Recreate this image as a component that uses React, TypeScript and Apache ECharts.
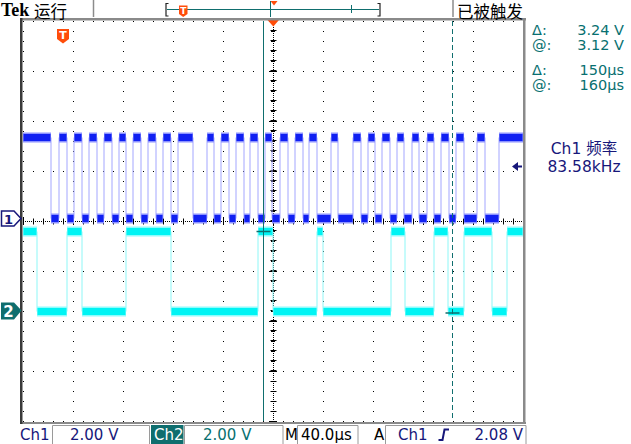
import React, { useEffect, useRef } from "react";
import * as echarts from "echarts";

// ---- axis ranges (time in µs, vertical in divisions) ----
const X_MIN = -200;
const X_MAX = 200;
const X_DIV = 40;
const Y_MIN = -4;
const Y_MAX = 4;
const VOLTS_PER_DIV = 2;

// ---- channel 1 (blue) : edge times in µs, starts high ----
const CH1_START_HIGH = true;
const CH1_HIGH_V = 3.24;
const CH1_LOW_V = 0;
const CH1_OFFSET_DIV = 0.05;
const CH1_EDGES_US = [
  -177.6, -171.2, -164.8, -159.2, -152.8, -147.2, -140.8, -135.2, -128.8, -123.2,
  -117.6, -112, -105.6, -100, -93.6, -88, -81.6, -76, -64, -52.8,
  -47.2, -41.6, -35.2, -29.6, -23.2, -18.4, -12, -6.4, -0.8, 5.6,
  12, 17.6, 24, 28.8, 35.2, 46.4, 52, 64, 70.4, 76,
  81.6, 87.2, 93.6, 99.2, 104.8, 111.2, 116.8, 123.2, 128.8, 134.4,
  140.8, 146.4, 152.8, 163.2, 169.6, 180.8,
];

// ---- channel 2 (cyan) ----
const CH2_START_HIGH = true;
const CH2_HIGH_V = 3.2;
const CH2_LOW_V = 0;
const CH2_OFFSET_DIV = -1.81;
const CH2_EDGES_US = [
  -188.8, -164.8, -152.8, -117.6, -81.6, -12, 0, 35.2, 40, 94.4,
  105.6, 128.8, 140, 152.8, 175.2, 187.2,
];

// ---- cursors / trigger ----
const CURSOR_T_US = [-8, 143.2];
const CURSOR_CH2_V = [3.2, -0.06];
const TRIGGER_LEVEL_V = 2.08;
const TRIGGER_T_US = 0;
const T_MARK_US = -168;

// ---- readouts ----
const TOP_LEFT_TEXT = ["Tek", "运行"];
const TOP_RIGHT_TEXT = "已被触发";
const READOUT_LABELS = ["Δ:", "@:", "Δ:", "@:"];
const READOUT_VALUES = ["3.24 V", "3.12 V", "150µs", "160µs"];
const FREQ_TEXT = ["Ch1 频率", "83.58kHz"];
const BOTTOM_CH1 = ["Ch1", "2.00 V"];
const BOTTOM_CH2 = ["Ch2", "2.00 V"];
const BOTTOM_TIME = ["M", "40.0µs"];
const BOTTOM_TRIG = ["A", "Ch1", "2.08 V"];

// ---- layout / style ----
const GRID_LEFT = 23;
const GRID_TOP = 21;
const GRID_W = 500;
const GRID_H = 400;
const DIV_PX = GRID_H / (Y_MAX - Y_MIN);
const NAVY = "#17177a";
const TEAL = "#0f6e6e";
const TEAL_TEXT = "#087070";
const ORANGE = "#ff4d0a";
const SANS = "'DejaVu Sans', 'Noto Sans CJK SC', sans-serif";
const CJK = "'Noto Sans CJK SC', sans-serif";

const toDiv = (v: number, off: number) => v / VOLTS_PER_DIV + off;

function buildTrace(edges: number[], startHigh: boolean, hi: number, lo: number, off: number) {
  const pts: number[][] = [];
  const segs: number[][] = [];
  let high = startHigh;
  let prev = X_MIN;
  for (const e of [...edges, X_MAX]) {
    const y = toDiv(high ? hi : lo, off);
    pts.push([prev, y], [e, y]);
    segs.push([prev, e, y]);
    prev = e;
    high = !high;
  }
  return { pts, segs };
}

const ch1 = buildTrace(CH1_EDGES_US, CH1_START_HIGH, CH1_HIGH_V, CH1_LOW_V, CH1_OFFSET_DIV);
const ch2 = buildTrace(CH2_EDGES_US, CH2_START_HIGH, CH2_HIGH_V, CH2_LOW_V, CH2_OFFSET_DIV);
const cursorData = CURSOR_T_US.map((t, i) => [t, toDiv(CURSOR_CH2_V[i], CH2_OFFSET_DIV), i]);

const crisp = (v: number) => Math.floor(v) + 0.5;

function edgeSeries(pts: number[][], color: string) {
  return {
    type: "line",
    data: pts,
    symbol: "none",
    silent: true,
    z: 3,
    lineStyle: { color, width: 1 },
  };
}

function blobSeries(segs: number[][], halo: string, core: string) {
  return {
    type: "custom",
    data: segs,
    silent: true,
    z: 4,
    encode: { x: [0, 1], y: 2 },
    renderItem: (_p: any, api: any) => {
      const a = api.coord([api.value(0), api.value(2)]);
      const b = api.coord([api.value(1), api.value(2)]);
      const w = b[0] - a[0];
      return {
        type: "group",
        children: [
          { type: "rect", shape: { x: a[0], y: a[1] - 5, width: w, height: 10 }, style: { fill: halo } },
          { type: "rect", shape: { x: a[0] + 0.5, y: a[1] - 3.5, width: Math.max(w - 1, 1), height: 7 }, style: { fill: core } },
        ],
      };
    },
  };
}

function txt(x: number, y: number, text: string, o: any = {}) {
  const size = o.size || 15;
  return {
    type: "text",
    x,
    y,
    silent: true,
    z: 20,
    style: {
      text,
      fill: o.fill || "#000",
      fontSize: size,
      lineHeight: o.lh || size,
      fontFamily: o.family || SANS,
      fontWeight: o.weight || "normal",
      align: o.align || "left",
      verticalAlign: "middle",
      textAlign: o.align || "left",
      textVerticalAlign: "middle",
    },
  };
}
const rect = (x: number, y: number, w: number, h: number, style: any) => ({ type: "rect", silent: true, z: 9, shape: { x, y, width: w, height: h }, style });
const line = (x1: number, y1: number, x2: number, y2: number, stroke: string, lw = 1, dash?: number[]) => ({
  type: "line", silent: true, z: 10, shape: { x1, y1, x2, y2 }, style: { stroke, lineWidth: lw, lineDash: dash },
});

function buildGraphics() {
  const g: any[] = [];
  const gRight = GRID_LEFT + GRID_W;
  const gBottom = GRID_TOP + GRID_H;
  // frame
  g.push(rect(20, 18, gRight + 3 - 20, 2.5, { fill: "#8a8a8a" }));
  g.push(rect(gRight, 18, 2.5, gBottom + 3 - 18, { fill: "#8a8a8a" }));
  g.push(rect(20, gBottom + 1, gRight + 3 - 20, 2, { fill: "#8a8a8a" }));
  g.push(rect(20, 18, 2.5, gBottom + 3 - 18, { fill: "#3a3a3a" }));
  // top bar
  g.push(txt(1, 10, TOP_LEFT_TEXT[0], { size: 18, weight: "bold", family: "'Liberation Serif', serif", lh: 16 }));
  g.push(txt(34, 10.5, TOP_LEFT_TEXT[1], { size: 16.5, family: CJK, lh: 15 }));
  g.push(line(93.5, 0, 93.5, 17, "#8c8c8c", 1.5));
  g.push(line(453, 0, 453, 17, "#8c8c8c", 1.5));
  g.push(txt(457, 10.5, TOP_RIGHT_TEXT, { size: 16.5, family: CJK, lh: 15 }));
  g.push(line(167, 9.5, 379, 9.5, TEAL, 1));
  g.push({ type: "polyline", silent: true, z: 10, shape: { points: [[168.5, 3.5], [166, 3.5], [166, 16], [168.5, 16]] }, style: { stroke: "#222", lineWidth: 1.2, fill: null } });
  g.push({ type: "polyline", silent: true, z: 10, shape: { points: [[377.5, 3.5], [380, 3.5], [380, 16], [377.5, 16]] }, style: { stroke: "#222", lineWidth: 1.2, fill: null } });
  g.push(line(351.5, 5, 351.5, 13, TEAL, 1));
  g.push(line(270.5, 1, 270.5, 17, TEAL, 1));
  g.push({ type: "polygon", silent: true, z: 11, shape: { points: [[270.5, 1], [277.5, 1], [274, 5.5]] }, style: { fill: ORANGE } });
  g.push({ type: "polygon", silent: true, z: 11, shape: { points: [[179, 5.5], [187.5, 5.5], [187.5, 14], [183.2, 17], [179, 14]] }, style: { fill: ORANGE } });
  g.push(txt(183.3, 10.5, "T", { size: 9, weight: "bold", fill: "#fff", align: "center" }));
  // right readouts
  const rowY = [30, 45, 70, 85];
  READOUT_LABELS.forEach((l, i) => {
    g.push(txt(532, rowY[i], l, { fill: TEAL_TEXT, size: 14.5, lh: 13 }));
    g.push(txt(624, rowY[i], READOUT_VALUES[i], { fill: TEAL_TEXT, size: 14.5, lh: 13, align: "right" }));
  });
  g.push(txt(584, 148.5, FREQ_TEXT[0], { fill: NAVY, size: 15.5, lh: 14, align: "center" }));
  g.push(txt(584, 166.5, FREQ_TEXT[1], { fill: NAVY, size: 15.5, lh: 14, align: "center" }));
  // channel ground markers
  const y1 = GRID_TOP + (Y_MAX - CH1_OFFSET_DIV) * DIV_PX;
  const y2 = GRID_TOP + (Y_MAX - CH2_OFFSET_DIV) * DIV_PX;
  g.push({ type: "polygon", silent: true, z: 11, shape: { points: [[1.5, y1 - 7.5], [14, y1 - 7.5], [21, y1], [14, y1 + 7.5], [1.5, y1 + 7.5]] }, style: { fill: "#fff", stroke: NAVY, lineWidth: 1.5 } });
  g.push(txt(8.5, y1 + 0.5, "1", { fill: NAVY, size: 13, weight: "bold", align: "center" }));
  g.push({ type: "polygon", silent: true, z: 11, shape: { points: [[1, y2 - 9], [14, y2 - 9], [21.5, y2 - 1], [14, y2 + 8], [1, y2 + 8]] }, style: { fill: TEAL } });
  g.push(txt(8.5, y2, "2", { fill: "#fff", size: 15, weight: "bold", align: "center" }));
  // bottom bar
  const by = 434.5;
  g.push(txt(20, by, BOTTOM_CH1[0], { fill: NAVY, size: 15 }));
  g.push(rect(52.5, 425.5, 97, 22, { fill: "none", stroke: "#9a9a9a", lineWidth: 1 }));
  g.push(txt(70, by, BOTTOM_CH1[1], { fill: NAVY, size: 15 }));
  g.push(rect(151, 425, 32.5, 22, { fill: TEAL }));
  g.push(txt(154, by, BOTTOM_CH2[0], { fill: "#fff", size: 15 }));
  g.push(rect(184.5, 425.5, 98.5, 22, { fill: "none", stroke: "#9a9a9a", lineWidth: 1 }));
  g.push(txt(203, by, BOTTOM_CH2[1], { fill: TEAL_TEXT, size: 15 }));
  g.push(txt(285, by, BOTTOM_TIME[0], { fill: "#000", size: 15 }));
  g.push(rect(297.5, 425.5, 60.5, 22, { fill: "none", stroke: "#9a9a9a", lineWidth: 1 }));
  g.push(txt(301, by, BOTTOM_TIME[1], { fill: "#000", size: 15 }));
  g.push(txt(374, by, BOTTOM_TRIG[0], { fill: "#000", size: 15 }));
  g.push(rect(385.5, 425.5, 140.5, 22, { fill: "none", stroke: "#9a9a9a", lineWidth: 1 }));
  g.push(txt(398, by, BOTTOM_TRIG[1], { fill: NAVY, size: 15 }));
  g.push({ type: "polyline", silent: true, z: 10, shape: { points: [[438.5, 440], [442.5, 440], [444.5, 429.5], [449, 429.5]] }, style: { stroke: NAVY, lineWidth: 2, fill: null } });
  g.push(txt(523, by, BOTTOM_TRIG[2], { fill: NAVY, size: 15, align: "right" }));
  return g;
}

const decorSeries = {
  type: "custom",
  data: [[0, 0]],
  silent: true,
  z: 2,
  renderItem: (_p: any, api: any) => {
    const ch: any[] = [];
    const c = api.coord([0, 0]);
    const cx = crisp(c[0]);
    const cy = crisp(c[1]);
    const top = api.coord([0, Y_MAX])[1];
    const bot = api.coord([0, Y_MIN])[1];
    const left = api.coord([X_MIN, 0])[0];
    const right = api.coord([X_MAX, 0])[0];
    const ink = { stroke: "#000", lineWidth: 1 };
    ch.push({ type: "line", shape: { x1: cx, y1: top, x2: cx, y2: bot }, style: { ...ink, lineDash: [1, 1] } });
    ch.push({ type: "line", shape: { x1: left, y1: cy, x2: right, y2: cy }, style: { ...ink, lineDash: [1, 1] } });
    const xs = X_DIV / 5;
    for (let t = X_MIN; t <= X_MAX + 1e-6; t += xs) {
      const x = crisp(api.coord([t, 0])[0]);
      ch.push({ type: "line", shape: { x1: x, y1: cy - 3, x2: x, y2: cy + 3 }, style: ink });
    }
    for (let v = Y_MIN; v <= Y_MAX + 1e-6; v += 0.2) {
      const y = crisp(api.coord([0, v])[1]);
      ch.push({ type: "line", shape: { x1: cx - 3, y1: y, x2: cx + 3, y2: y }, style: ink });
    }
    // trigger level arrow (right edge)
    const tl = api.coord([X_MAX, toDiv(TRIGGER_LEVEL_V, CH1_OFFSET_DIV)]);
    ch.push({ type: "polygon", shape: { points: [[tl[0] - 11, tl[1]], [tl[0] - 5, tl[1] - 4.5], [tl[0] - 5, tl[1] + 4.5]] }, style: { fill: NAVY } });
    ch.push({ type: "line", shape: { x1: tl[0] - 6, y1: tl[1], x2: tl[0] - 1, y2: tl[1] }, style: { stroke: NAVY, lineWidth: 2 } });
    // expansion point triangle
    const tp = api.coord([TRIGGER_T_US, Y_MAX]);
    ch.push({ type: "polygon", shape: { points: [[tp[0] - 5.5, tp[1] - 1], [tp[0] + 6, tp[1] - 1], [tp[0] + 0.3, tp[1] + 5.5]] }, style: { fill: ORANGE } });
    // T badge
    const tm = api.coord([T_MARK_US, Y_MAX]);
    const bx = tm[0];
    const byy = tm[1] + 8;
    ch.push({ type: "polygon", shape: { points: [[bx - 6, byy], [bx + 6, byy], [bx + 6, byy + 10], [bx, byy + 14.5], [bx - 6, byy + 10]] }, style: { fill: ORANGE } });
    ch.push({ type: "text", x: bx, y: byy + 6.5, style: { text: "T", fill: "#fff", fontSize: 11, fontWeight: "bold", fontFamily: SANS, align: "center", verticalAlign: "middle" } });
    return { type: "group", children: ch };
  },
};

const cursorSeries = {
  type: "custom",
  data: cursorData,
  silent: true,
  z: 6,
  encode: { x: 0, y: 1 },
  renderItem: (_p: any, api: any) => {
    const p = api.coord([api.value(0), api.value(1)]);
    const top = api.coord([api.value(0), Y_MAX])[1];
    const bot = api.coord([api.value(0), Y_MIN])[1];
    const x = crisp(p[0]);
    const dashed = api.value(2) > 0;
    return {
      type: "group",
      children: [
        { type: "line", shape: { x1: x, y1: top, x2: x, y2: bot }, style: { stroke: TEAL, lineWidth: 1, lineDash: dashed ? [5, 3] : null } },
        { type: "line", shape: { x1: x - 7, y1: p[1], x2: x + 7, y2: p[1] }, style: { stroke: TEAL, lineWidth: 1.5 } },
      ],
    };
  },
};

const tickAxis = (extra: any) => ({
  type: "value",
  axisLine: { show: false },
  axisLabel: { show: false },
  axisTick: { show: true, inside: true, length: 4, lineStyle: { color: "#000", width: 1 } },
  minorTick: { show: true, splitNumber: 5, length: 2, lineStyle: { color: "#000", width: 1 } },
  splitLine: { show: false },
  ...extra,
});

export default function App() {
  const ref = useRef<HTMLDivElement>(null);
  useEffect(() => {
    const chart = echarts.init(ref.current as HTMLDivElement, undefined, { renderer: "svg", width: 631, height: 444 });
    const dotted = { show: true, lineStyle: { color: "#000", width: 1, type: [1, 9] } };
    chart.setOption({
      animation: false,
      backgroundColor: "#ffffff",
      grid: { left: GRID_LEFT, top: GRID_TOP, width: GRID_W, height: GRID_H, containLabel: false, outerBoundsMode: "none" },
      xAxis: [
        tickAxis({ position: "bottom", min: X_MIN, max: X_MAX, interval: X_DIV, splitLine: dotted }),
        tickAxis({ position: "top", min: X_MIN, max: X_MAX, interval: X_DIV }),
      ],
      yAxis: [
        tickAxis({ position: "left", min: Y_MIN, max: Y_MAX, interval: 1, splitLine: dotted }),
        tickAxis({ position: "right", min: Y_MIN, max: Y_MAX, interval: 1 }),
      ],
      graphic: { elements: buildGraphics() },
      series: [
        decorSeries,
        edgeSeries(ch1.pts, "#a3a6ff"),
        edgeSeries(ch2.pts, "#8ef7f7"),
        blobSeries(ch1.segs, "#8d93ff", "#1020f2"),
        blobSeries(ch2.segs, "#8ffcfc", "#00f4f4"),
        cursorSeries,
      ],
    });
    return () => chart.dispose();
  }, []);
  return (
    <div
      ref={ref}
      style={{ position: "fixed", left: 0, top: 0, width: 631, height: 444, background: "#fff" }}
    />
  );
}
